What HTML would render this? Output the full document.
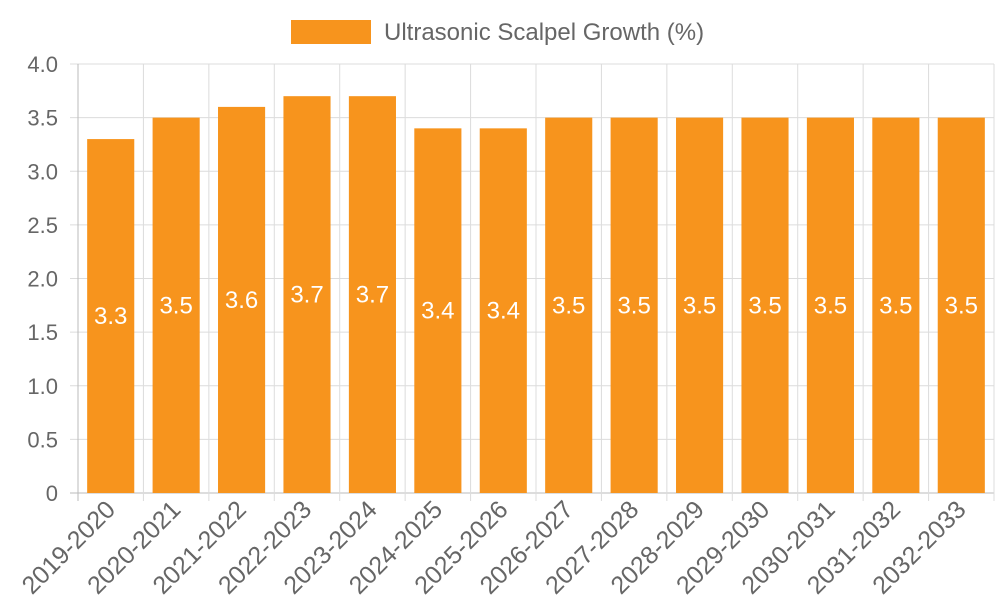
<!DOCTYPE html>
<html><head><meta charset="utf-8"><style>
body{margin:0;background:#fff;}
svg text{font-family:"Liberation Sans",sans-serif;}
</style></head><body>
<svg id="chart" width="1000" height="600">
<g id="legend">
<rect x="291" y="20" width="80" height="24" fill="#f7941d"></rect>
<text x="384" y="40" font-size="24" fill="#666">Ultrasonic Scalpel Growth (%)</text>
</g>
<g id="grid"></g><g id="bars"></g><g id="labels"></g>
</svg>
<script>
const categories=["2019-2020","2020-2021","2021-2022","2022-2023","2023-2024","2024-2025","2025-2026","2026-2027","2027-2028","2028-2029","2029-2030","2030-2031","2031-2032","2032-2033"];
const values=[3.3,3.5,3.6,3.7,3.7,3.4,3.4,3.5,3.5,3.5,3.5,3.5,3.5,3.5];
const yTicks=[0,0.5,1.0,1.5,2.0,2.5,3.0,3.5,4.0];
const yTickLabels=["0","0.5","1.0","1.5","2.0","2.5","3.0","3.5","4.0"];
const NS="http://www.w3.org/2000/svg";
const L=78,R=994,T=64,B=493,yMax=4;
const bw=(R-L)/categories.length;
const y=v=>B-(v/yMax)*(B-T);
const x=i=>L+i*bw;
function mk(tag,attrs,parent){const e=document.createElementNS(NS,tag);for(const k in attrs)e.setAttribute(k,attrs[k]);parent.appendChild(e);return e;}
const grid=document.getElementById('grid'),bars=document.getElementById('bars'),labels=document.getElementById('labels');
yTicks.forEach((t,i)=>{
 const g=mk('line',{x1:70,x2:R,y1:y(t),y2:y(t),stroke:i===0?'#bbb':'#dcdcdc','stroke-width':1},grid);
 
 
 const tx=mk('text',{x:58,y:y(t)+8,'text-anchor':'end','font-size':22,fill:'#666'},grid);
 tx.textContent=yTickLabels[i];
 
 
});
for(let i=0;i<=categories.length;i++){
 const g=mk('line',{x1:x(i),x2:x(i),y1:T,y2:B+8,stroke:i===0?'#bbb':'#dcdcdc','stroke-width':1},grid);
 
 
}
categories.forEach((c,i)=>{
 const cx=x(i)+bw/2,w=bw*0.72;
 const r=mk('rect',{x:cx-w/2,y:y(values[i]),width:w,height:B-y(values[i]),fill:'#f7941d'},bars);
 
 
 const v=mk('text',{x:cx,y:(y(values[i])+B)/2+8,'text-anchor':'middle','font-size':24,fill:'#fff'},labels);
 v.textContent=values[i];
 
 
 const ax=cx+6,ay=B+18;
 const tx=mk('text',{x:ax,y:ay,'text-anchor':'end','font-size':25,fill:'#666',transform:`rotate(-45 ${ax} ${ay})`},labels);
 tx.textContent=c;
 
 
});
</script>
</body></html>
